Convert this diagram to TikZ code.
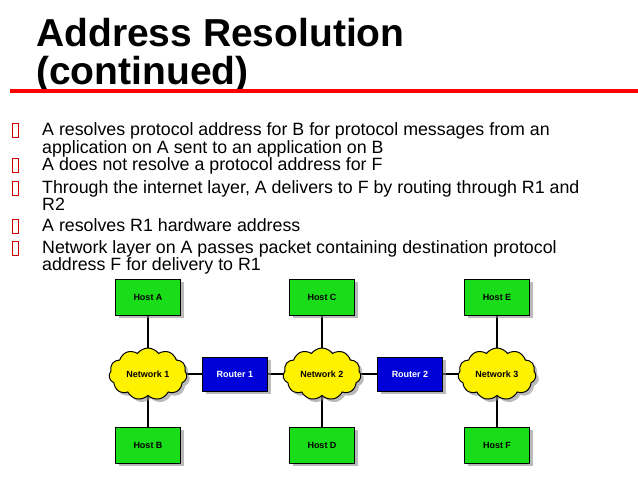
\documentclass[tikz,border=0pt]{standalone}
\usepackage{fontspec}
\setmainfont{Liberation Sans}
\usetikzlibrary{shapes.symbols,shadows}
\begin{document}
\begin{tikzpicture}[x=1pt,y=-1pt,
  sh/.style={drop shadow={shadow xshift=3pt,shadow yshift=-3pt,fill=black!45,opacity=.6}},
  host/.style={draw,line width=1pt,fill=green!85!black!90,minimum width=65pt,minimum height=36pt,font=\fontsize{9}{10}\selectfont\bfseries,sh,inner sep=0},
  router/.style={draw,line width=1pt,fill=blue!85!black,text=white,minimum width=65pt,minimum height=34pt,font=\fontsize{9}{10}\selectfont\bfseries,sh,inner sep=0},
  net/.style={cloud,cloud puffs=11,cloud puff arc=110,aspect=1.5,draw,line width=1pt,fill=yellow,minimum width=78pt,minimum height=52pt,font=\fontsize{9}{10}\selectfont\bfseries,sh,inner sep=0},
  link/.style={line width=2.5pt},
  bul/.style={draw=red!80!black,line width=.6pt,minimum width=6pt,minimum height=14pt,inner sep=0},
  txt/.style={anchor=base west,font=\fontsize{17.8}{20}\selectfont,inner sep=0}]
\useasboundingbox (0,0) rectangle (638,479);
\node[anchor=base west,font=\fontsize{39}{44}\selectfont\bfseries,inner sep=0] (t1) at (36,46) {Address Resolution};
\node[anchor=base west,font=\fontsize{39}{44}\selectfont\bfseries,inner sep=0] (t2) at (36,84) {(continued)};
\fill[red] (10,89) rectangle (638,93);
\foreach \y/\n in {130/b1,165/b2,188/b3,226/b4,248/b5} \node[bul] (\n) at (15,\y) {};
\node[txt] (l1) at (42,135) {A resolves protocol address for B for protocol messages from an};
\node[txt] (l2) at (42,153) {application on A sent to an application on B};
\node[txt] (l3) at (42,170) {A does not resolve a protocol address for F};
\node[txt] (l4) at (42,193) {Through the internet layer, A delivers to F by routing through R1 and};
\node[txt] (l5) at (42,210) {R2};
\node[txt] (l6) at (42,231) {A resolves R1 hardware address};
\node[txt] (l7) at (42,253) {Network layer on A passes packet containing destination protocol};
\node[txt] (l8) at (42,270) {address F for delivery to R1};
\coordinate (ha) at (148,297); \coordinate (hb) at (148,445);
\coordinate (hc) at (322,297); \coordinate (hd) at (322,445);
\coordinate (he) at (497,297); \coordinate (hf) at (497,445);
\draw[link] (ha) -- (hb) (hc) -- (hd) (he) -- (hf) (148,374) -- (497,374);
\node[host] (A) at (ha) {Host A};
\node[host] (B) at (hb) {Host B};
\node[host] (C) at (hc) {Host C};
\node[host] (D) at (hd) {Host D};
\node[host] (E) at (he) {Host E};
\node[host] (F) at (hf) {Host F};
\node[net] (N1) at (148,374) {Network 1};
\node[net] (N2) at (322,374) {Network 2};
\node[net] (N3) at (497,374) {Network 3};
\node[router] (R1) at (235,374) {Router 1};
\node[router] (R2) at (410,374) {Router 2};
\end{tikzpicture}
\end{document}
